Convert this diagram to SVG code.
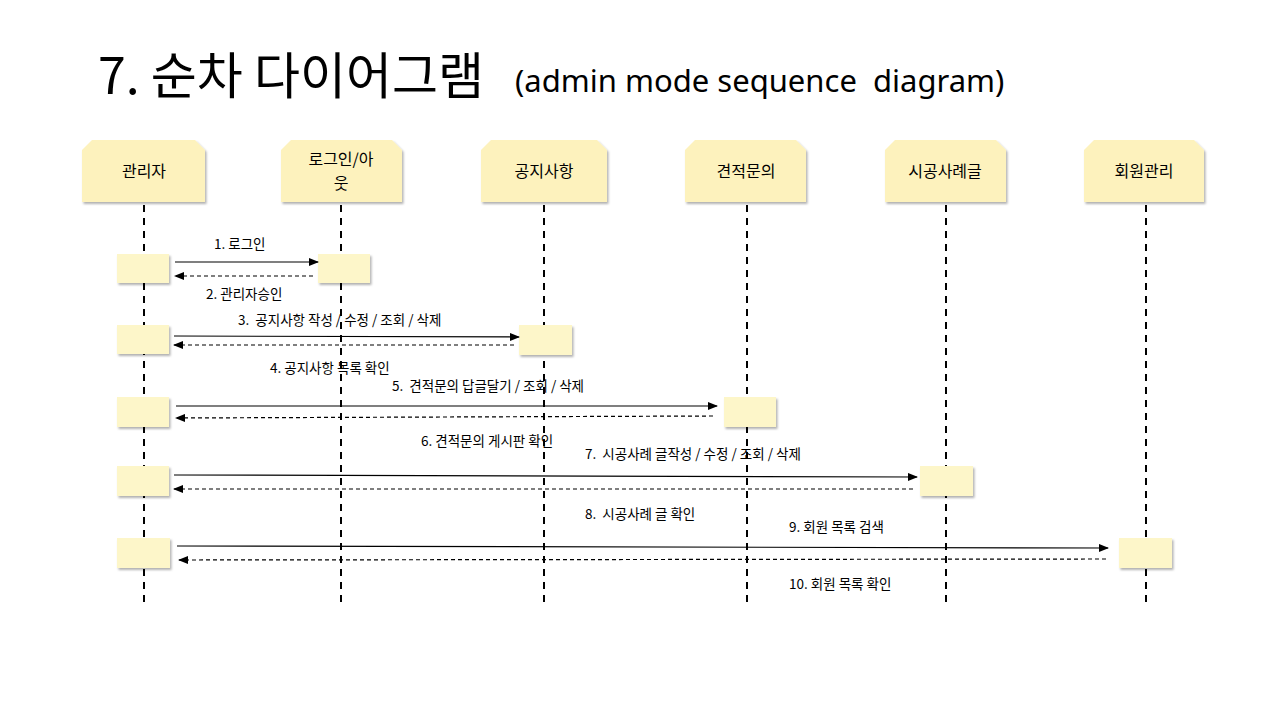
<svg xmlns="http://www.w3.org/2000/svg" width="1280" height="720" viewBox="0 0 1280 720">
<defs>
<filter id="sh" x="-10%" y="-10%" width="130%" height="140%"><feDropShadow dx="1.5" dy="2" stdDeviation="1.2" flood-color="#000" flood-opacity="0.3"/></filter>
<marker id="ar" markerWidth="10" markerHeight="8" refX="9" refY="4" orient="auto" markerUnits="userSpaceOnUse"><path d="M0,0 L10,4 L0,8 Z" fill="#000"/></marker>
<marker id="ar2" markerWidth="10" markerHeight="8" refX="9" refY="4" orient="auto" markerUnits="userSpaceOnUse"><path d="M0,0 L10,4 L0,8 Z" fill="#000"/></marker>
<style>
.hd{fill:#fdf2bd;filter:url(#sh)}
.act{fill:#fdf6c9;filter:url(#sh)}
.ll{stroke:#000;stroke-width:2;stroke-dasharray:7,6}
.t{font-family:"Malgun Gothic","Noto Sans CJK KR",sans-serif;font-size:16px;text-anchor:middle}
.m{font-family:"Malgun Gothic","Noto Sans CJK KR",sans-serif;font-size:13.5px}
.s{stroke:#000;stroke-width:1.2;fill:none;marker-end:url(#ar)}
.d{stroke:#000;stroke-width:1.2;fill:none;stroke-dasharray:4,3;marker-end:url(#ar2)}
</style>
</defs>
<rect width="1280" height="720" fill="#fff"/>
<text x="98" y="94" font-family="Malgun Gothic,'Noto Sans CJK KR',sans-serif" font-size="50">7. 순차 다이어그램</text>
<text x="515" y="92" font-family="'Noto Sans','Noto Sans CJK KR',sans-serif" font-size="31" xml:space="preserve">(admin mode sequence  diagram)</text>
<g id="lifelines">
<line class="ll" x1="144" y1="205" x2="144" y2="605"/>
<line class="ll" x1="341" y1="205" x2="341" y2="605"/>
<line class="ll" x1="544" y1="205" x2="544" y2="605"/>
<line class="ll" x1="747" y1="205" x2="747" y2="605"/>
<line class="ll" x1="946" y1="205" x2="946" y2="605"/>
<line class="ll" x1="1146" y1="205" x2="1146" y2="605"/>
</g>
<g id="n1"><path class="hd" d="M92,140 H195 L205,150 V202 H82 V150 Z"/><text class="t" x="144" y="177">관리자</text></g>
<g id="n2"><path class="hd" d="M291,140 H392 L402,150 V202 H281 V150 Z"/><text class="t" x="341" y="165">로그인/아</text><text class="t" x="341" y="189">웃</text></g>
<g id="n3"><path class="hd" d="M491,140 H597 L607,150 V202 H481 V150 Z"/><text class="t" x="544" y="177">공지사항</text></g>
<g id="n4"><path class="hd" d="M695,140 H796 L806,150 V202 H685 V150 Z"/><text class="t" x="746" y="177">견적문의</text></g>
<g id="n5"><path class="hd" d="M895,140 H996 L1006,150 V202 H885 V150 Z"/><text class="t" x="945" y="177">시공사례글</text></g>
<g id="n6"><path class="hd" d="M1094,140 H1194 L1204,150 V202 H1084 V150 Z"/><text class="t" x="1144" y="177">회원관리</text></g>
<g id="activations">
<rect class="act" x="117" y="254" width="52" height="29"/><rect class="act" x="318" y="254" width="52" height="29"/>
<rect class="act" x="117" y="325" width="52" height="29"/><rect class="act" x="519" y="325" width="53" height="30"/>
<rect class="act" x="117" y="397" width="52" height="30"/><rect class="act" x="724" y="397" width="52" height="30"/>
<rect class="act" x="117" y="466" width="52" height="30"/><rect class="act" x="920" y="466" width="53" height="30"/>
<rect class="act" x="117" y="538" width="53" height="30"/><rect class="act" x="1119" y="538" width="53" height="30"/>
</g>
<g id="connectors">
<line class="s" x1="175" y1="262" x2="318" y2="262"/><line class="d" x1="313" y1="276" x2="175" y2="276"/>
<line class="s" x1="174" y1="336" x2="519" y2="337"/><line class="d" x1="514" y1="345" x2="174" y2="345"/>
<line class="s" x1="176" y1="406" x2="717" y2="406"/><line class="d" x1="713" y1="416" x2="176" y2="418"/>
<line class="s" x1="174" y1="475" x2="917" y2="477"/><line class="d" x1="913" y1="489" x2="174" y2="489"/>
<line class="s" x1="177" y1="546" x2="1108" y2="548"/><line class="d" x1="1106" y1="559" x2="179" y2="560"/>
</g>
<g id="labels">
<text class="m" x="214" y="249">1. 로그인</text>
<text class="m" x="206" y="299">2. 관리자승인</text>
<text class="m" x="238" y="325" xml:space="preserve">3.  공지사항 작성 / 수정 / 조회 / 삭제</text>
<text class="m" x="270" y="373">4. 공지사항 목록 확인</text>
<text class="m" x="392" y="391" xml:space="preserve">5.  견적문의 답글달기 / 조회 / 삭제</text>
<text class="m" x="421" y="446">6. 견적문의 게시판 확인</text>
<text class="m" x="585" y="459" xml:space="preserve">7.  시공사례 글작성 / 수정 / 조회 / 삭제</text>
<text class="m" x="585" y="519" xml:space="preserve">8.  시공사례 글 확인</text>
<text class="m" x="789" y="532">9. 회원 목록 검색</text>
<text class="m" x="789" y="589">10. 회원 목록 확인</text>
</g>
</svg>
